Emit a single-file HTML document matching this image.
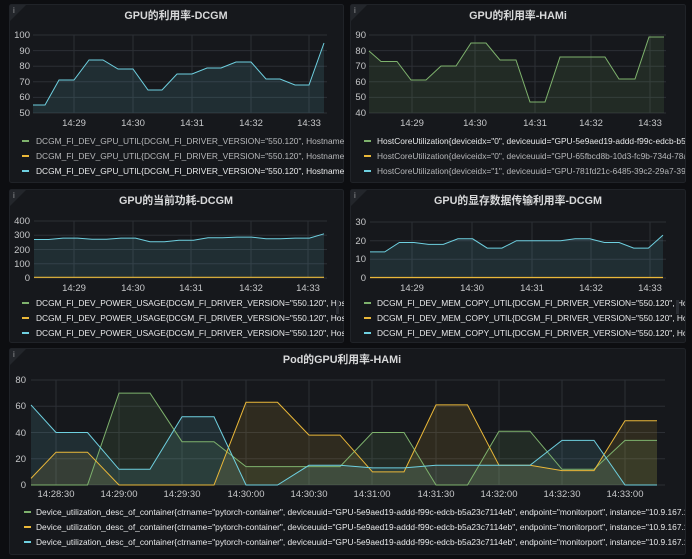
<!DOCTYPE html>
<html><head><meta charset="utf-8"><style>
body{margin:0;background:#0d0e11;width:692px;height:559px;overflow:hidden}
svg{display:block;font-family:"Liberation Sans","Noto Sans CJK SC",sans-serif}
.t{fill:#d8d9da;font-size:10.8px;text-anchor:middle;font-weight:600}
.ax{fill:#c7c8ca;font-size:9.5px}
.yl{text-anchor:end}
.xl{text-anchor:middle}
.lg{fill:#b7b8ba;font-size:8.4px}
.lh{fill:#e8e9ea;font-size:8.4px}
.g{stroke:#2c2f35;stroke-width:1}
.p{fill:#16181c;stroke:#202328}
</style></head><body>
<svg width="692" height="559" viewBox="0 0 692 559">
<defs>
<clipPath id="c1"><rect x="9" y="4" width="335" height="179"/></clipPath>
<clipPath id="c2"><rect x="350" y="4" width="335" height="179"/></clipPath>
<clipPath id="c3"><rect x="9" y="189" width="335" height="149"/></clipPath>
<clipPath id="c4"><rect x="350" y="189" width="335" height="149"/></clipPath>
<clipPath id="c5"><rect x="9" y="348" width="676" height="206"/></clipPath>
</defs>
<rect class="p" x="9.5" y="4.5" width="334" height="178" rx="2"/>
<rect class="p" x="350.5" y="4.5" width="335" height="178" rx="2"/>
<rect class="p" x="9.5" y="189.5" width="334" height="153" rx="2"/>
<rect class="p" x="350.5" y="189.5" width="335" height="153" rx="2"/>
<rect class="p" x="9.5" y="348.5" width="676" height="206" rx="2"/>
<g fill="#23262b"><path d="M10 5h16l-16 16z"/><path d="M351 5h16l-16 16z"/><path d="M10 190h16l-16 16z"/><path d="M351 190h16l-16 16z"/><path d="M10 349h16l-16 16z"/></g>
<g fill="#9a9b9d" font-size="8px"><text x="13" y="13">i</text><text x="354" y="13">i</text><text x="13" y="198">i</text><text x="354" y="198">i</text><text x="13" y="357">i</text></g>

<text class="t" x="176" y="19">GPU的利用率-DCGM</text>
<g class="g"><line x1="33" x2="327" y1="35" y2="35"/><line x1="33" x2="327" y1="50.6" y2="50.6"/><line x1="33" x2="327" y1="66.2" y2="66.2"/><line x1="33" x2="327" y1="81.8" y2="81.8"/><line x1="33" x2="327" y1="97.4" y2="97.4"/><line x1="33" x2="327" y1="113" y2="113"/>
<line x1="74" x2="74" y1="35" y2="113"/><line x1="133" x2="133" y1="35" y2="113"/><line x1="192" x2="192" y1="35" y2="113"/><line x1="251" x2="251" y1="35" y2="113"/><line x1="309" x2="309" y1="35" y2="113"/></g>
<g class="ax yl"><text x="30" y="38">100</text><text x="30" y="54">90</text><text x="30" y="69">80</text><text x="30" y="85">70</text><text x="30" y="100">60</text><text x="30" y="116">50</text></g>
<g class="ax xl"><text x="74" y="126">14:29</text><text x="133" y="126">14:30</text><text x="192" y="126">14:31</text><text x="251" y="126">14:32</text><text x="309" y="126">14:33</text></g>
<polygon fill="#6ed0e0" fill-opacity="0.12" points="33,113 33,105 45,105 59,80 74,80 89,60 103,60 118,69 133,69 148,90 162,90 177,74 192,74 207,68 221,68 236,62 251,62 266,79 280,79 295,85 309,85 324,43 324,113"/>
<polyline fill="none" stroke="#6ed0e0" stroke-width="1" points="33,105 45,105 59,80 74,80 89,60 103,60 118,69 133,69 148,90 162,90 177,74 192,74 207,68 221,68 236,62 251,62 266,79 280,79 295,85 309,85 324,43"/>
<g clip-path="url(#c1)">
<line x1="22" x2="29" y1="141" y2="141" stroke="#7eb26d" stroke-width="2"/><line x1="22" x2="29" y1="156" y2="156" stroke="#eab839" stroke-width="2"/><line x1="22" x2="29" y1="171" y2="171" stroke="#6ed0e0" stroke-width="2"/>
<text class="lg" x="36" y="144">DCGM_FI_DEV_GPU_UTIL{DCGM_FI_DRIVER_VERSION="550.120", Hostname="10.9.167.15"}</text>
<text class="lg" x="36" y="159">DCGM_FI_DEV_GPU_UTIL{DCGM_FI_DRIVER_VERSION="550.120", Hostname="10.9.167.15"}</text>
<text class="lh" x="36" y="174">DCGM_FI_DEV_GPU_UTIL{DCGM_FI_DRIVER_VERSION="550.120", Hostname="10.9.167.15"}</text>
</g>

<text class="t" x="518" y="19">GPU的利用率-HAMi</text>
<g class="g"><line x1="369" x2="666" y1="35" y2="35"/><line x1="369" x2="666" y1="50.6" y2="50.6"/><line x1="369" x2="666" y1="66.2" y2="66.2"/><line x1="369" x2="666" y1="81.8" y2="81.8"/><line x1="369" x2="666" y1="97.4" y2="97.4"/><line x1="369" x2="666" y1="113" y2="113"/>
<line x1="412" x2="412" y1="35" y2="113"/><line x1="475" x2="475" y1="35" y2="113"/><line x1="535" x2="535" y1="35" y2="113"/><line x1="591" x2="591" y1="35" y2="113"/><line x1="650" x2="650" y1="35" y2="113"/></g>
<g class="ax yl"><text x="366" y="38">90</text><text x="366" y="54">80</text><text x="366" y="69">70</text><text x="366" y="85">60</text><text x="366" y="100">50</text><text x="366" y="116">40</text></g>
<g class="ax xl"><text x="412" y="126">14:29</text><text x="475" y="126">14:30</text><text x="535" y="126">14:31</text><text x="591" y="126">14:32</text><text x="650" y="126">14:33</text></g>
<polygon fill="#7eb26d" fill-opacity="0.12" points="369,113 369,51 381,61.5 397,61.5 411,80 426,80 441,66 456,66 471,43 486,43 500,60 516,60 530,102 545,102 560,57 575,57 590,57 605,57 619,79 635,79 649,37 664,37 664,113"/>
<polyline fill="none" stroke="#7eb26d" stroke-width="1" points="369,51 381,61.5 397,61.5 411,80 426,80 441,66 456,66 471,43 486,43 500,60 516,60 530,102 545,102 560,57 575,57 590,57 605,57 619,79 635,79 649,37 664,37"/>
<g clip-path="url(#c2)">
<line x1="364" x2="371" y1="141" y2="141" stroke="#7eb26d" stroke-width="2"/><line x1="364" x2="371" y1="156" y2="156" stroke="#eab839" stroke-width="2"/><line x1="364" x2="371" y1="171" y2="171" stroke="#6ed0e0" stroke-width="2"/>
<text class="lh" x="377" y="144">HostCoreUtilization{deviceidx="0", deviceuuid="GPU-5e9aed19-addd-f99c-edcb-b5a23c7114eb"}</text>
<text class="lg" x="377" y="159">HostCoreUtilization{deviceidx="0", deviceuuid="GPU-65fbcd8b-10d3-fc9b-734d-78a"}</text>
<text class="lg" x="377" y="174">HostCoreUtilization{deviceidx="1", deviceuuid="GPU-781fd21c-6485-39c2-29a7-39"}</text>
</g>

<text class="t" x="176" y="204">GPU的当前功耗-DCGM</text>
<g class="g"><line x1="34" x2="327" y1="221" y2="221"/><line x1="34" x2="327" y1="235.25" y2="235.25"/><line x1="34" x2="327" y1="249.5" y2="249.5"/><line x1="34" x2="327" y1="263.75" y2="263.75"/><line x1="34" x2="327" y1="278" y2="278"/>
<line x1="74" x2="74" y1="221" y2="278"/><line x1="133" x2="133" y1="221" y2="278"/><line x1="191" x2="191" y1="221" y2="278"/><line x1="251" x2="251" y1="221" y2="278"/><line x1="308" x2="308" y1="221" y2="278"/></g>
<g class="ax yl"><text x="30" y="224">400</text><text x="30" y="238">300</text><text x="30" y="253">200</text><text x="30" y="267">100</text><text x="30" y="281">0</text></g>
<g class="ax xl"><text x="74" y="291">14:29</text><text x="133" y="291">14:30</text><text x="191" y="291">14:31</text><text x="251" y="291">14:32</text><text x="308" y="291">14:33</text></g>
<polygon fill="#6ed0e0" fill-opacity="0.12" points="34,278 34,239.5 48.5,239.5 63,238.1 77.5,238.1 92,239.2 106.5,239.2 121,238.1 135.5,238.1 150,241.7 164.5,241.7 179,240.2 193.5,240.2 208,237.7 222.5,237.7 237,237.1 251.5,237.1 266,238.8 280.5,238.8 295,238.1 309.5,238.1 324,233.8 324,278"/>
<polyline fill="none" stroke="#6ed0e0" stroke-width="1" points="34,239.5 48.5,239.5 63,238.1 77.5,238.1 92,239.2 106.5,239.2 121,238.1 135.5,238.1 150,241.7 164.5,241.7 179,240.2 193.5,240.2 208,237.7 222.5,237.7 237,237.1 251.5,237.1 266,238.8 280.5,238.8 295,238.1 309.5,238.1 324,233.8"/>
<line x1="34" x2="324" y1="277.3" y2="277.3" stroke="#eab839" stroke-width="1.2"/>
<g clip-path="url(#c3)">
<line x1="22" x2="29" y1="303" y2="303" stroke="#7eb26d" stroke-width="2"/><line x1="22" x2="29" y1="318" y2="318" stroke="#eab839" stroke-width="2"/><line x1="22" x2="29" y1="333" y2="333" stroke="#6ed0e0" stroke-width="2"/>
<text class="lh" x="36" y="306">DCGM_FI_DEV_POWER_USAGE{DCGM_FI_DRIVER_VERSION="550.120", Hostname="10.9"}</text>
<text class="lh" x="36" y="321">DCGM_FI_DEV_POWER_USAGE{DCGM_FI_DRIVER_VERSION="550.120", Hostname="10.9"}</text>
<text class="lh" x="36" y="336">DCGM_FI_DEV_POWER_USAGE{DCGM_FI_DRIVER_VERSION="550.120", Hostname="10.9"}</text>
</g>
<rect x="336" y="300" width="3" height="14" fill="#2a2d33"/>

<text class="t" x="518" y="204">GPU的显存数据传输利用率-DCGM</text>
<g class="g"><line x1="370" x2="666" y1="222" y2="222"/><line x1="370" x2="666" y1="240.7" y2="240.7"/><line x1="370" x2="666" y1="259.3" y2="259.3"/><line x1="370" x2="666" y1="278" y2="278"/>
<line x1="412" x2="412" y1="222" y2="278"/><line x1="472" x2="472" y1="222" y2="278"/><line x1="532" x2="532" y1="222" y2="278"/><line x1="591" x2="591" y1="222" y2="278"/><line x1="650" x2="650" y1="222" y2="278"/></g>
<g class="ax yl"><text x="366" y="225">30</text><text x="366" y="244">20</text><text x="366" y="262">10</text><text x="366" y="281">0</text></g>
<g class="ax xl"><text x="412" y="291">14:29</text><text x="472" y="291">14:30</text><text x="532" y="291">14:31</text><text x="591" y="291">14:32</text><text x="650" y="291">14:33</text></g>
<polygon fill="#6ed0e0" fill-opacity="0.12" points="370,278 370,251.9 384.7,251.9 399.3,242.5 414,242.5 428.6,244.4 443.3,244.4 457.9,238.8 472.6,238.8 487.2,248.1 501.9,248.1 516.5,240.7 531.2,240.7 545.8,240.7 560.5,240.7 575.1,238.8 589.8,238.8 604.4,242.5 619.1,242.5 633.7,248.1 648.4,248.1 663,235.1 663,278"/>
<polyline fill="none" stroke="#6ed0e0" stroke-width="1" points="370,251.9 384.7,251.9 399.3,242.5 414,242.5 428.6,244.4 443.3,244.4 457.9,238.8 472.6,238.8 487.2,248.1 501.9,248.1 516.5,240.7 531.2,240.7 545.8,240.7 560.5,240.7 575.1,238.8 589.8,238.8 604.4,242.5 619.1,242.5 633.7,248.1 648.4,248.1 663,235.1"/>
<line x1="370" x2="663" y1="277.5" y2="277.5" stroke="#eab839" stroke-width="1.2"/>
<g clip-path="url(#c4)">
<line x1="364" x2="371" y1="303" y2="303" stroke="#7eb26d" stroke-width="2"/><line x1="364" x2="371" y1="318" y2="318" stroke="#eab839" stroke-width="2"/><line x1="364" x2="371" y1="333" y2="333" stroke="#6ed0e0" stroke-width="2"/>
<text class="lh" x="377" y="306">DCGM_FI_DEV_MEM_COPY_UTIL{DCGM_FI_DRIVER_VERSION="550.120", Hostname="10.9"}</text>
<text class="lh" x="377" y="321">DCGM_FI_DEV_MEM_COPY_UTIL{DCGM_FI_DRIVER_VERSION="550.120", Hostname="10.9"}</text>
<text class="lh" x="377" y="336">DCGM_FI_DEV_MEM_COPY_UTIL{DCGM_FI_DRIVER_VERSION="550.120", Hostname="10.9"}</text>
</g>
<rect x="676" y="300" width="3" height="14" fill="#2a2d33"/>

<text class="t" x="342" y="363">Pod的GPU利用率-HAMi</text>
<g class="g"><line x1="31" x2="665" y1="380" y2="380"/><line x1="31" x2="665" y1="406.25" y2="406.25"/><line x1="31" x2="665" y1="432.5" y2="432.5"/><line x1="31" x2="665" y1="458.75" y2="458.75"/><line x1="31" x2="665" y1="485" y2="485"/>
<line x1="56" x2="56" y1="380" y2="485"/><line x1="119" x2="119" y1="380" y2="485"/><line x1="182" x2="182" y1="380" y2="485"/><line x1="246" x2="246" y1="380" y2="485"/><line x1="309" x2="309" y1="380" y2="485"/><line x1="372" x2="372" y1="380" y2="485"/><line x1="436" x2="436" y1="380" y2="485"/><line x1="499" x2="499" y1="380" y2="485"/><line x1="562" x2="562" y1="380" y2="485"/><line x1="625" x2="625" y1="380" y2="485"/></g>
<g class="ax yl"><text x="26" y="383">80</text><text x="26" y="409">60</text><text x="26" y="436">40</text><text x="26" y="462">20</text><text x="26" y="488">0</text></g>
<g class="ax xl"><text x="56" y="497">14:28:30</text><text x="119" y="497">14:29:00</text><text x="182" y="497">14:29:30</text><text x="246" y="497">14:30:00</text><text x="309" y="497">14:30:30</text><text x="372" y="497">14:31:00</text><text x="436" y="497">14:31:30</text><text x="499" y="497">14:32:00</text><text x="562" y="497">14:32:30</text><text x="625" y="497">14:33:00</text></g>
<polygon fill="#7eb26d" fill-opacity="0.12" points="31,485 56,485 87.5,485 119,393.1 150,393.1 182,441.7 214,441.7 246,466.6 277.5,466.6 309,466.6 340,466.6 372.5,432.5 404,432.5 436,485 467.5,485 499,431.2 530,431.2 562,469.3 594,469.3 625,440.4 657,440.4 657,485"/>
<polygon fill="#eab839" fill-opacity="0.12" points="31,485 31,478.4 56,452.2 87.5,452.2 119,485 150,485 182,485 214,485 246,402.3 277.5,402.3 309,435.1 340,435.1 372.5,471.9 404,471.9 436,404.9 467.5,404.9 499,465.3 530,465.3 562,470.6 594,470.6 625,420.7 657,420.7 657,485"/>
<polygon fill="#6ed0e0" fill-opacity="0.12" points="31,485 31,404.9 56,432.5 87.5,432.5 119,469.3 150,469.3 182,416.8 214,416.8 246,485 277.5,485 309,465.3 340,465.3 372.5,467.9 404,467.9 436,465.3 467.5,465.3 499,465.3 530,465.3 562,440.4 594,440.4 625,485 657,485"/>
<polyline fill="none" stroke="#7eb26d" stroke-width="1" points="31,485 56,485 87.5,485 119,393.1 150,393.1 182,441.7 214,441.7 246,466.6 277.5,466.6 309,466.6 340,466.6 372.5,432.5 404,432.5 436,485 467.5,485 499,431.2 530,431.2 562,469.3 594,469.3 625,440.4 657,440.4"/>
<polyline fill="none" stroke="#eab839" stroke-width="1" points="31,478.4 56,452.2 87.5,452.2 119,485 150,485 182,485 214,485 246,402.3 277.5,402.3 309,435.1 340,435.1 372.5,471.9 404,471.9 436,404.9 467.5,404.9 499,465.3 530,465.3 562,470.6 594,470.6 625,420.7 657,420.7"/>
<polyline fill="none" stroke="#6ed0e0" stroke-width="1" points="31,404.9 56,432.5 87.5,432.5 119,469.3 150,469.3 182,416.8 214,416.8 246,485 277.5,485 309,465.3 340,465.3 372.5,467.9 404,467.9 436,465.3 467.5,465.3 499,465.3 530,465.3 562,440.4 594,440.4 625,485 657,485"/>
<g clip-path="url(#c5)">
<line x1="24" x2="31" y1="512" y2="512" stroke="#7eb26d" stroke-width="2"/><line x1="24" x2="31" y1="527" y2="527" stroke="#eab839" stroke-width="2"/><line x1="24" x2="31" y1="542" y2="542" stroke="#6ed0e0" stroke-width="2"/>
<text class="lh" x="36" y="515">Device_utilization_desc_of_container{ctrname="pytorch-container", deviceuuid="GPU-5e9aed19-addd-f99c-edcb-b5a23c7114eb", endpoint="monitorport", instance="10.9.167.15"}</text>
<text class="lh" x="36" y="530">Device_utilization_desc_of_container{ctrname="pytorch-container", deviceuuid="GPU-5e9aed19-addd-f99c-edcb-b5a23c7114eb", endpoint="monitorport", instance="10.9.167.15"}</text>
<text class="lh" x="36" y="545">Device_utilization_desc_of_container{ctrname="pytorch-container", deviceuuid="GPU-5e9aed19-addd-f99c-edcb-b5a23c7114eb", endpoint="monitorport", instance="10.9.167.15"}</text>
</g>
</svg>
</body></html>
